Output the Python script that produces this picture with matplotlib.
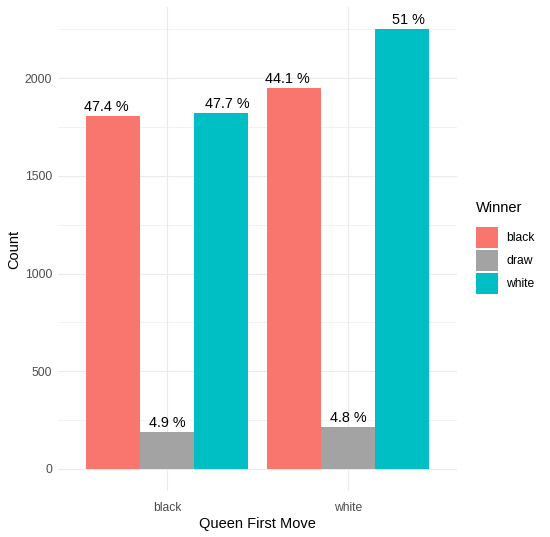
import matplotlib
matplotlib.use("Agg")
import matplotlib.pyplot as plt
from matplotlib.patches import Patch
import numpy as np

plt.rcParams['font.family'] = ['Liberation Sans', 'DejaVu Sans']

# data
first_move = ["black", "white"]
winners = ["black", "draw", "white"]
counts_black = [1808, 188, 1821]
counts_white = [1948, 214, 2252]
pct_black = [47.4, 4.9, 47.7]
pct_white = [44.1, 4.8, 51]

colors = ["#F8766D", "#A3A3A3", "#00BFC4"]
grid_col = "#EBEBEB"
tick_col = "#4D4D4D"

counts = np.array([counts_black, counts_white])
pcts = np.array([pct_black, pct_white])

fig = plt.figure(figsize=(5.5, 5.37), dpi=100)
ax = fig.add_axes([0.1062, 0.0857, 0.7240, 0.9013])

x = np.arange(1, len(first_move) + 1)
bar_w = 0.3
text_w = 1 / 3  # labels are dodged a bit wider than the bars
for j, w in enumerate(winners):
    xpos = x + (j - 1) * bar_w
    ax.bar(xpos, counts[:, j], width=bar_w, color=colors[j], zorder=2, linewidth=0)
    for i in range(len(first_move)):
        ax.annotate(f"{pcts[i, j]:g} %", (x[i] + (j - 1) * text_w, counts[i, j]),
                    xytext=(0, 3.6), textcoords="offset points",
                    ha="center", va="baseline", fontsize=10.4, color="black", zorder=3)

ymax = counts.max()
ax.set_ylim(-0.05 * ymax, 1.05 * ymax)
ax.set_xlim(0.4, 2.6)

ax.set_xticks(x)
ax.set_xticklabels(first_move)
ax.set_yticks([0, 500, 1000, 1500, 2000])
ax.set_yticks([250, 750, 1250, 1750, 2250], minor=True)
ax.tick_params(axis="both", which="both", length=0, labelsize=8.7, labelcolor=tick_col)
ax.tick_params(axis="y", pad=4.5)
ax.tick_params(axis="x", pad=8)

ax.grid(True, which="major", color=grid_col, linewidth=0.8, zorder=0)
ax.grid(True, which="minor", axis="y", color=grid_col, linewidth=0.45, zorder=0)
ax.set_axisbelow(True)
for s in ax.spines.values():
    s.set_visible(False)

ax.set_xlabel("Queen First Move", fontsize=10.5, labelpad=2)
ax.set_ylabel("Count", fontsize=10.5, labelpad=2.5)

# legend: title placed on its own so the gap to the keys matches
fig.text(476 / 550, 1 - 208 / 537, "Winner", fontsize=10.5, ha="left", va="center")
handles = [Patch(facecolor=c, edgecolor="none", label=w) for c, w in zip(colors, winners)]
leg = fig.legend(handles=handles, loc="upper left",
                 bbox_to_anchor=(476 / 550, 1 - 227 / 537), frameon=False,
                 fontsize=8.7, borderpad=0, borderaxespad=0,
                 handlelength=1.82, handleheight=2.3, labelspacing=0.17,
                 handletextpad=0.7)

fig.savefig("out.png", dpi=100, facecolor="white")
